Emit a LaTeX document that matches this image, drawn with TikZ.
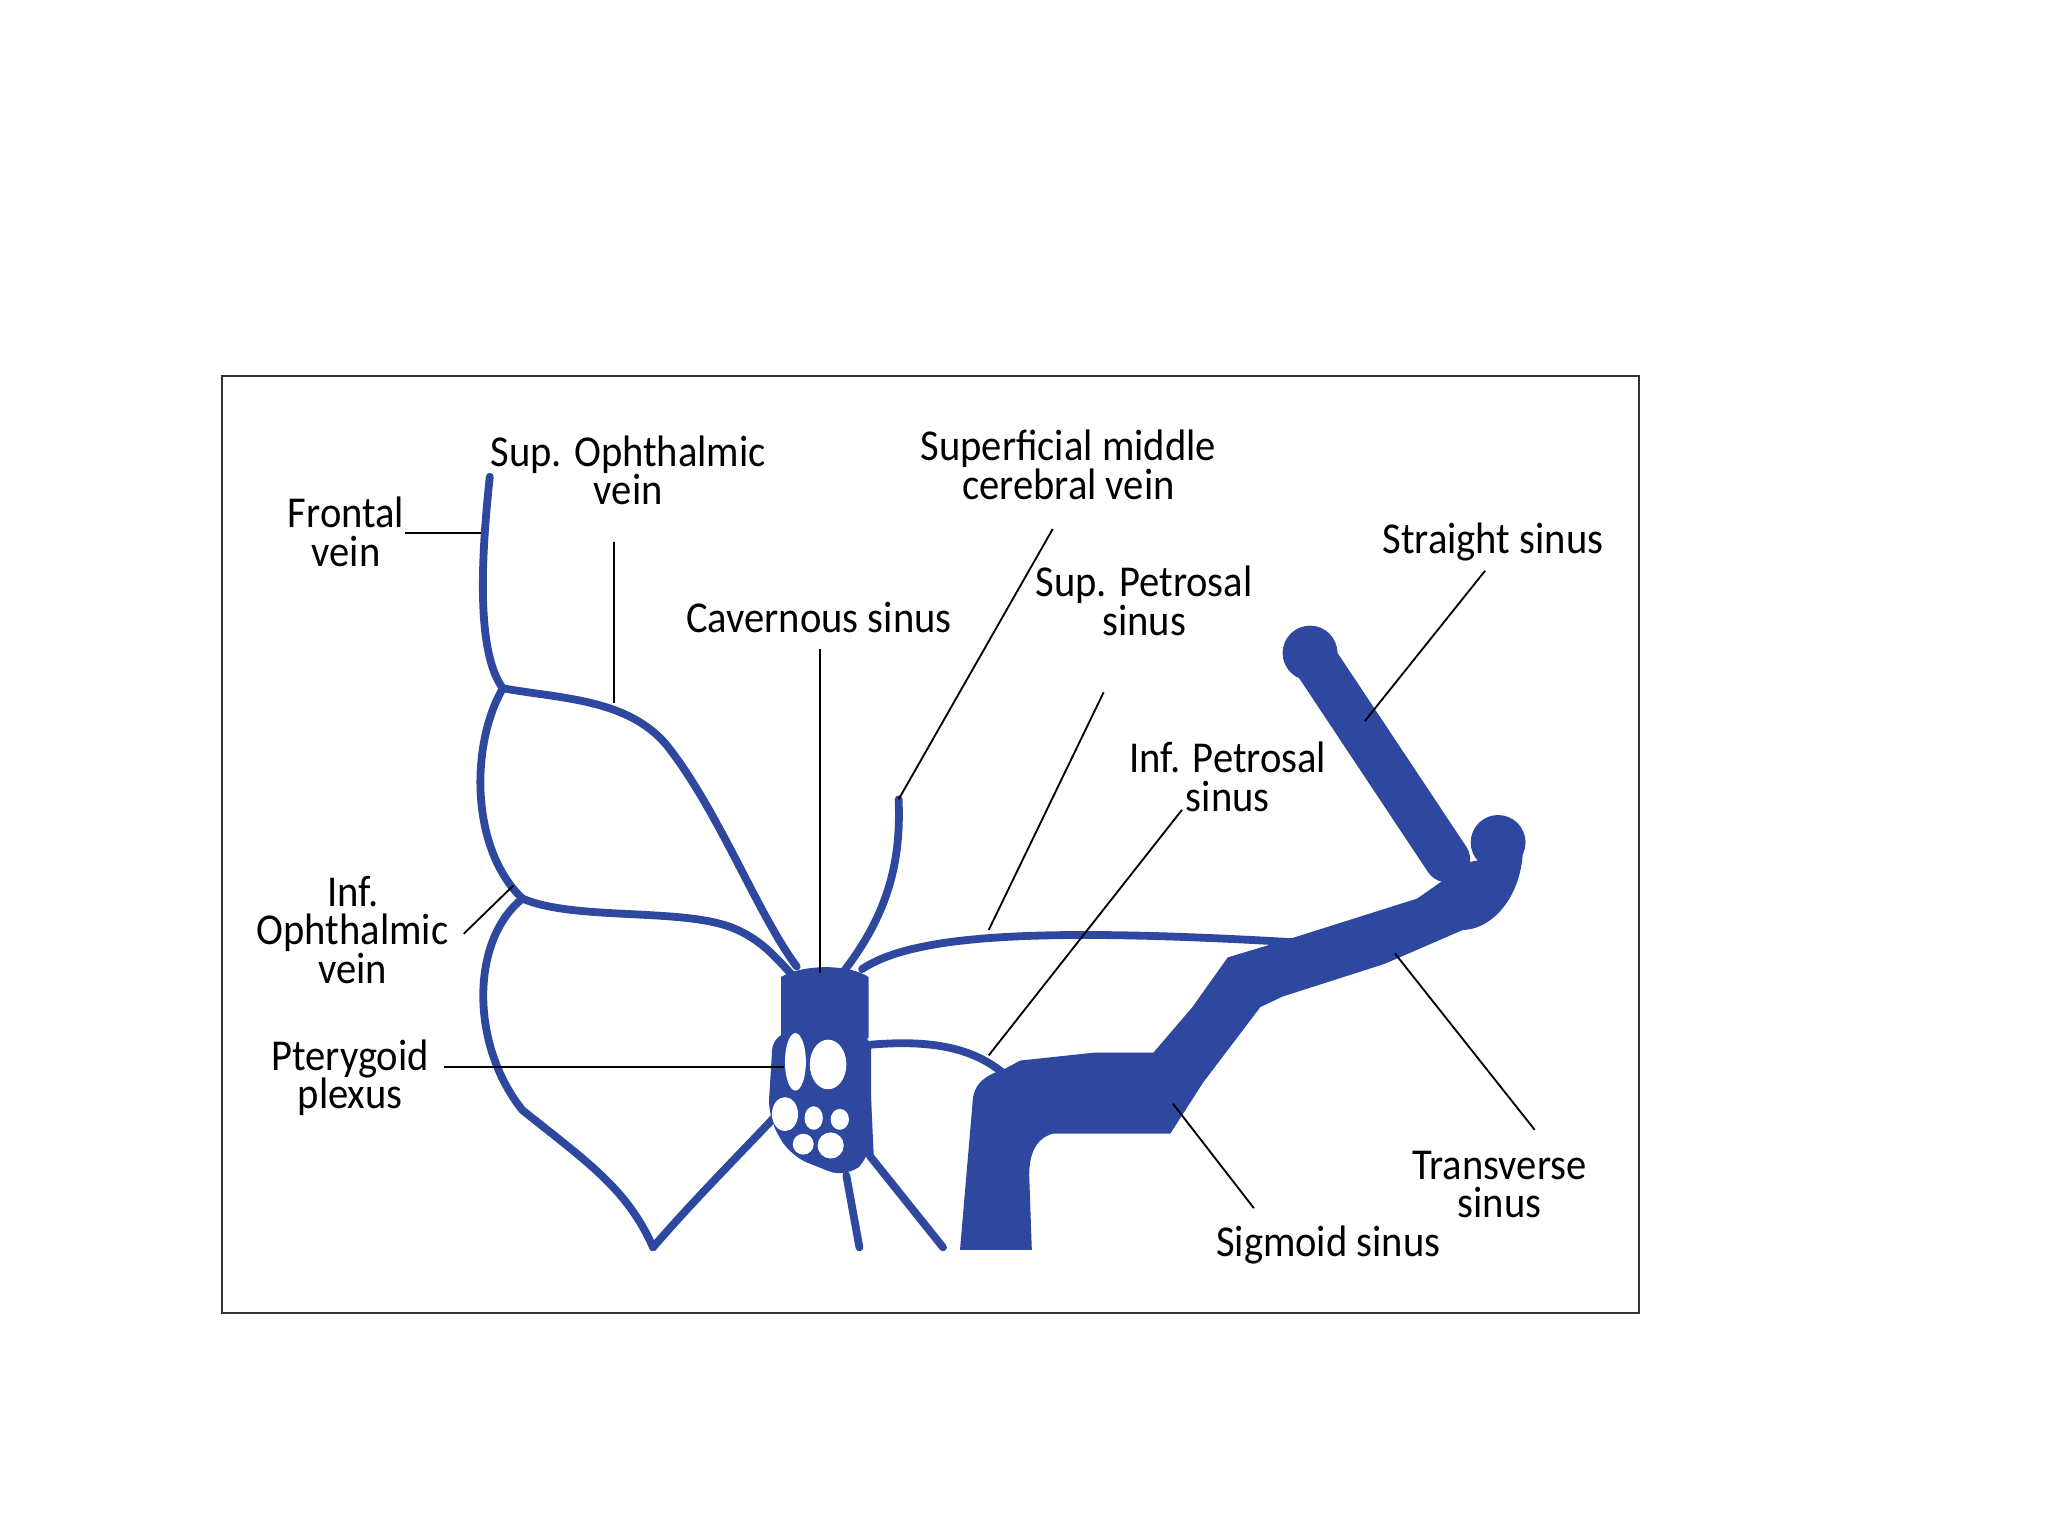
\documentclass[tikz,border=0pt]{standalone}
\usepackage{fontspec}
\setmainfont{Carlito}
\begin{document}
\begin{tikzpicture}[x=0.01cm,y=-0.01cm,
  vein/.style={draw=vblue,line width=1.7pt,line cap=round,line join=round},
  lead/.style={draw=black,line width=0.4pt},
  lbl/.style={font=\fontsize{9.6}{8.4}\selectfont,align=center,inner sep=0pt,xscale=0.92}]
\definecolor{vblue}{RGB}{46,72,160}
\useasboundingbox (0,0) rectangle (1568,1176);
\draw[line width=0.5pt,draw=black!80] (170,288) rectangle (1255,1005);
% frontal + loops
\draw[vein] (375,365) .. controls (368,430) and (365,500) .. (385,527);
\draw[vein] (385,527) .. controls (430,535) and (480,535) .. (510,570) .. controls (550,620) and (580,700) .. (610,740);
\draw[vein] (385,527) .. controls (360,570) and (360,650) .. (400,688);
\draw[vein] (400,688) .. controls (440,705) and (520,695) .. (560,710) .. controls (585,720) and (595,735) .. (610,750);
\draw[vein] (400,688) .. controls (360,720) and (360,800) .. (400,850) .. controls (450,890) and (480,910) .. (500,955);
\draw[vein] (500,955) .. controls (530,920) and (570,880) .. (598,850);
% cavernous
\fill[vblue] (598,748) .. controls (615,738) and (650,738) .. (665,748) -- (665,795) -- (598,795) -- cycle;
\draw[vein] (688,612) .. controls (690,660) and (680,700) .. (645,745);
\draw[vein] (660,742) .. controls (700,715) and (800,710) .. (1000,722);
\draw[vein] (665,800) .. controls (720,795) and (750,805) .. (772,825);
\draw[vein] (662,800) -- (666,885) -- (722,955);
% pterygoid plexus
\fill[vblue,rounded corners=4] (592,790) -- (667,790) -- (667,885) -- (648,902) -- (605,885) -- (588,855) -- cycle;
\fill[white] (609,813) ellipse (8 and 22) (634,815) ellipse (14 and 19)
  (601,853) ellipse (10 and 13) (623,856) ellipse (7 and 9) (643,857) ellipse (7 and 8)
  (615,876) ellipse (8 and 8) (636,877) ellipse (10 and 10);
\draw[vein] (648,900) -- (658,955);
% sigmoid / transverse
\fill[vblue] (735,957) -- (745,840) .. controls (748,825) and (760,822) .. (770,818) -- (781,812) -- (837,806) -- (883,806) -- (913,771) -- (940,733) -- (990,718) -- (1085,688) -- (1125,660)
  -- (1166,652) .. controls (1164,690) and (1140,712) .. (1120,712)
  -- (1060,738) -- (982,763) -- (965,771) -- (921,829) -- (896,868) -- (806,868) .. controls (792,872) and (788,885) .. (788,900) -- (790,957) -- cycle;
\fill[vblue] (1147,645) circle (21);
\draw[vblue,line width=10pt,line cap=round] (1003,500) -- (1108,658);
\fill[vblue] (1003,500) circle (21);
% labels
\node[lbl] at (265,407) {Frontal\\vein};
\draw[lead] (310,408) -- (368,408);
\node[lbl] at (481,360) {Sup. Ophthalmic\\vein};
\draw[lead] (470,415) -- (470,538);
\node[lbl] at (818,356) {Superficial middle\\cerebral vein};
\draw[lead] (806,405) -- (688,612);
\node[lbl] at (876,460) {Sup. Petrosal\\sinus};
\draw[lead] (845,530) -- (757,712);
\node[lbl] at (627,473) {Cavernous sinus};
\draw[lead] (628,497) -- (628,745);
\node[lbl] at (1143,415) {Straight sinus};
\draw[lead] (1137,437) -- (1045,552);
\node[lbl] at (940,595) {Inf. Petrosal\\sinus};
\draw[lead] (905,620) -- (757,808);
\node[lbl] at (270,712) {Inf.\\Ophthalmic\\vein};
\draw[lead] (355,715) -- (393,678);
\node[lbl] at (268,825) {Pterygoid\\plexus};
\draw[lead] (340,817) -- (600,817);
\node[lbl] at (1148,907) {Transverse\\sinus};
\draw[lead] (1175,865) -- (1068,730);
\node[lbl] at (1017,953) {Sigmoid sinus};
\draw[lead] (960,925) -- (898,845);
\end{tikzpicture}
\end{document}
